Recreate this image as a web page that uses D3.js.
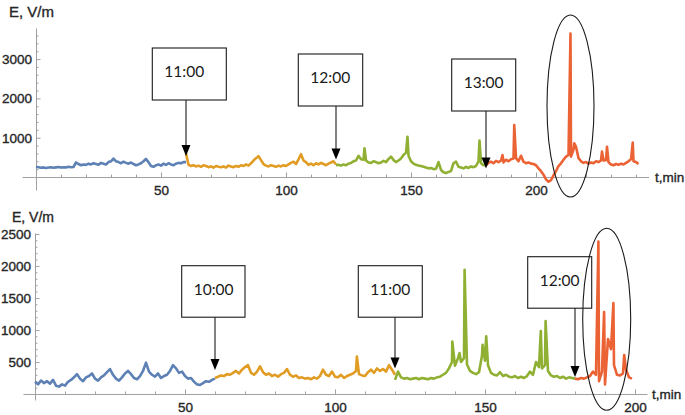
<!DOCTYPE html>
<html>
<head>
<meta charset="utf-8">
<script src="https://cdn.jsdelivr.net/npm/d3@7"></script>
<style>
body { margin: 0; background: #fff; }
svg { display: block; }
.tick text { font-family: "Liberation Sans", Arial, sans-serif; font-size: 13.5px; fill: #262626; stroke: #262626; stroke-width: 0.35px; }
.axisTitle { font-family: "Liberation Sans", Arial, sans-serif; fill: #262626; stroke: #262626; stroke-width: 0.35px; }
.callout text { font-family: Lato, "Open Sans", sans-serif; font-size: 15.5px; fill: #1a1a1a; }
</style>
</head>
<body>
<div id="here"></div>
<script>
// E-field records, one value per minute, split by hour colour

const colors = ["#5e81b5", "#e19c24", "#8fb032", "#eb6235"];
const segStarts = [0, 60, 120, 180];

// top record
const topBlue = [260,250,235,245,230,240,250,235,245,255,240,250,245,260,250,255,
  370,330,300,320,310,340,320,350,330,310,360,340,320,380,400,470,400,380,350,390,
  360,340,370,330,300,320,350,400,460,380,280,260,300,320,290,340,310,350,320,300,
  340,360,350,380,380];
const topOrange = [600,310,280,300,270,290,260,300,280,250,
  270,240,280,260,250,270,240,290,270,250,
  280,260,300,280,320,290,350,420,480,530,
  430,330,290,270,300,280,260,290,270,300,
  280,320,360,390,330,450,580,420,380,310,
  340,300,350,320,360,330,300,340,370,400,320];
const topGreen = [300,310,290,320,300,340,360,400,420,540,
  450,440,420,370,360,400,380,350,370,410,
  380,460,520,430,380,420,470,560,620,540,
  400,340,310,290,280,260,240,220,230,200,
  210,380,180,120,100,130,150,350,390,260,
  240,220,260,230,270,250,280,400,350,300,310];
const topRed = [300,360,390,350,410,380,420,370,440,400,
  450,470,480,400,540,390,350,370,340,330,
  300,220,150,60,-60,-120,-80,40,150,280,
  350,440,520,560,520,700,770,480,400,360,
  380,340,370,350,400,380,420,420,430,380,
  320,300,330,310,340,320,360,400,450,400,380,330];
const topSpikes = [[131.4,730],[148.6,1025],[177.4,925],[186.6,560],[191.3,1320],
  [213.8,3650],[215.3,860],[226.4,645],[228.4,770],[238.7,875]];

// bottom record
const botBlue = [190,150,210,170,200,160,220,130,115,150,
  130,190,220,260,310,240,200,260,280,320,
  240,210,260,290,340,390,300,240,210,260,
  320,360,310,250,230,280,360,490,350,300,
  270,320,250,280,300,360,450,400,330,350,
  280,240,250,190,150,140,170,200,190,220,240];
const botOrange = [250,270,290,280,310,300,330,360,320,380,
  420,450,330,300,350,430,340,300,320,280,
  300,270,310,330,390,300,270,290,250,260,
  240,250,230,260,240,280,380,300,280,350,
  270,260,300,250,280,300,320,360,310,290,
  280,340,380,330,400,360,390,350,450,380,300];
const botGreen = [220,350,260,240,250,230,240,250,230,250,
  240,230,250,240,260,270,300,330,400,500,
  440,560,500,560,460,360,330,310,340,600,
  520,450,330,300,290,340,280,300,270,260,
  280,250,270,250,280,350,300,500,420,400,
  450,360,290,270,280,250,270,240,260,250,240];
const botRed = [240,230,250,240,260,280,350,300,200,350,
  150,860,700,450,300,290,320,380,260,240];
const botSpikes = [[107.3,585],[139.1,820],[141.5,640],[143.2,1940],[149.2,770],
  [150.4,900],[168.6,985],[170.2,1140],[187.8,2380],[189.7,1280],[192.8,1420],[196.4,610]];

const xTicks = [50, 100, 150, 200];
const topYTicks = [1000, 2000, 3000];
const botYTicks = [500, 1000, 1500, 2000, 2500];
const topLabels = ["11:00", "12:00", "13:00"];
const botLabels = ["10:00", "11:00", "12:00"];
const markTimes = [60, 120, 180];

const width = 685;
const height = 415;

const svg = d3
    .select("#here")
    .append("svg")
    .attr("width", width)
    .attr("height", height);

function drawPanel(cfg) {
    const xScale = d3.scaleLinear().domain(cfg.xDomain).range(cfg.xRange);
    const yScale = d3.scaleLinear().domain(cfg.yDomain).range(cfg.yRange);
    const g = svg.append("g");

    // minor ticks
    const xMinor = d3.range(10, cfg.xDomain[1], 10).filter(function(t){ return t % 50 !== 0; });
    const yMinor = d3.range(cfg.yMinorStep, cfg.yDomain[1], cfg.yMinorStep)
        .filter(function(v){ return cfg.yTicks.indexOf(v) < 0; });

    const xAxisMinor = g.append("g")
        .attr("transform", `translate(0, ${yScale(0)})`)
        .call(d3.axisBottom(xScale).tickValues(xMinor).tickSize(-2.5).tickFormat(""));
    xAxisMinor.select(".domain").remove();

    const yAxisMinor = g.append("g")
        .attr("transform", `translate(${xScale(0)}, 0)`)
        .call(d3.axisLeft(yScale).tickValues(yMinor).tickSize(-2.5).tickFormat(""));
    yAxisMinor.select(".domain").remove();

    const xAxis = g.append("g")
        .attr("transform", `translate(0, ${yScale(0)})`)
        .call(d3.axisBottom(xScale).tickValues(xTicks).tickSize(-4.5).tickSizeOuter(0)
            .tickPadding(8).tickFormat(d3.format("d")));

    const yAxis = g.append("g")
        .attr("transform", `translate(${xScale(0)}, 0)`)
        .call(d3.axisLeft(yScale).tickValues(cfg.yTicks).tickSize(-4.5).tickSizeOuter(0)
            .tickPadding(4).tickFormat(d3.format("d")));

    g.selectAll(".domain").attr("stroke", "#a0a0a0");
    g.selectAll(".tick line").attr("stroke", "#a0a0a0");

    g.append("text")
        .attr("class", "axisTitle")
        .attr("x", 54)
        .attr("y", cfg.yTitleY)
        .attr("text-anchor", "end")
        .attr("font-size", cfg.yTitleSize)
        .text("E, V/m");

    g.append("text")
        .attr("class", "axisTitle")
        .attr("x", cfg.xTitleX)
        .attr("y", yScale(0) + 5)
        .attr("font-size", 13.5)
        .text("t,min");

    // series
    const line = d3.line()
        .x(function(d){ return xScale(d[0]); })
        .y(function(d){ return yScale(d[1]); });

    cfg.series.forEach(function(values, i){
        const start = segStarts[i];
        const end = start + values.length - 1;
        let pts = values.map(function(v, k){ return [start + k, v]; });
        cfg.spikes.forEach(function(s){
            if (s[0] > start && s[0] < end) pts.push(s);
        });
        pts.sort(function(a, b){ return a[0] - b[0]; });
        g.append("path")
            .datum(pts)
            .attr("fill", "none")
            .attr("stroke", colors[i])
            .attr("stroke-width", 2.6)
            .attr("stroke-linejoin", "round")
            .attr("d", line);
    });

    // hour callouts
    cfg.labels.forEach(function(label, i){
        const L = cfg.layout;
        const ax = xScale(markTimes[i]);
        const c = g.append("g").attr("class", "callout");
        c.append("rect")
            .attr("x", L.boxLeft[i])
            .attr("y", L.boxTop[i])
            .attr("width", L.boxW[i])
            .attr("height", L.boxH)
            .attr("fill", "#fff")
            .attr("stroke", "#1a1a1a")
            .attr("stroke-width", 1.1);
        c.append("text")
            .attr("x", L.boxLeft[i] + 12)
            .attr("y", L.boxTop[i] + 29)
            .text(label);
        c.append("line")
            .attr("x1", ax).attr("x2", ax)
            .attr("y1", L.boxTop[i] + L.boxH)
            .attr("y2", L.tipY[i] - 8)
            .attr("stroke", "#1a1a1a")
            .attr("stroke-width", 1.1);
        c.append("path")
            .attr("d", `M${ax - 4.5},${L.tipY[i] - 11} L${ax + 4.5},${L.tipY[i] - 11} L${ax},${L.tipY[i]} Z`)
            .attr("fill", "#000");
    });

    g.append("ellipse")
        .attr("cx", cfg.ellipse[0])
        .attr("cy", cfg.ellipse[1])
        .attr("rx", cfg.ellipse[2])
        .attr("ry", cfg.ellipse[3])
        .attr("fill", "none")
        .attr("stroke", "#1a1a1a")
        .attr("stroke-width", 1.1);
}

drawPanel({
    xDomain: [-5.6, 245], xRange: [22, 648.5],
    yDomain: [-330, 3790], yRange: [190, 28],
    yTicks: topYTicks, yMinorStep: 200,
    series: [topBlue, topOrange, topGreen, topRed],
    spikes: topSpikes,
    labels: topLabels,
    yTitleY: 17, yTitleSize: 15, xTitleX: 655,
    layout: { boxLeft: [152.3, 298.3, 451.7], boxTop: [48, 54, 59], boxW: [74, 64.4, 64], boxH: 52, tipY: [156, 159.5, 168.5] },
    ellipse: [570.5, 106, 23.5, 91]
});

drawPanel({
    xDomain: [-4, 204], xRange: [23, 647],
    yDomain: [-94, 2515], yRange: [400, 233],
    yTicks: botYTicks, yMinorStep: 100,
    series: [botBlue, botOrange, botGreen, botRed],
    spikes: botSpikes,
    labels: botLabels,
    yTitleY: 221.5, yTitleSize: 14, xTitleX: 652,
    layout: { boxLeft: [181.7, 358.3, 527.7], boxTop: [265.7, 265.7, 256.7], boxW: [63.3, 64, 64], boxH: 51.5, tipY: [370, 368.5, 377] },
    ellipse: [606.7, 319.3, 24, 91]
});
</script>
</body>
</html>
